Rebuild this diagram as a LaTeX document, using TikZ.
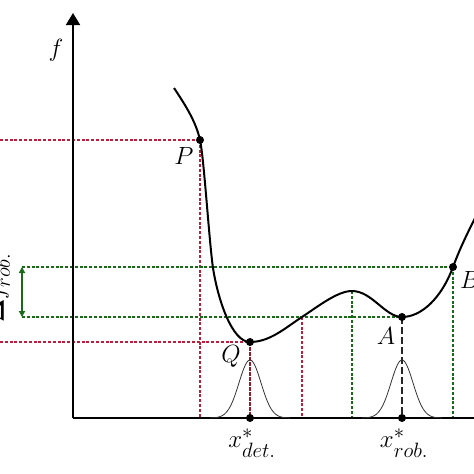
\documentclass[tikz,border=0pt]{standalone}
\usepackage{amsmath,amssymb,bm}
\usetikzlibrary{arrows.meta}
\definecolor{rdash}{RGB}{185,30,60}
\definecolor{rdark}{RGB}{150,25,40}
\definecolor{gdash}{RGB}{25,105,25}
\begin{document}
\begin{tikzpicture}[x=1pt,y=-1pt,
  reddash/.style={rdash, line width=1.6pt, dash pattern=on 3pt off 1.8pt},
  greendash/.style={gdash, line width=1.6pt, dash pattern=on 3pt off 1.8pt},
  blackdash/.style={black!85, line width=1.8pt, dash pattern=on 7pt off 3pt},
  axisline/.style={black, line width=1.8pt},
  curveline/.style={black, line width=2pt},
  gaussline/.style={black!80, line width=0.8pt},
  dot/.style={circle, fill=black, inner sep=0pt, minimum size=8pt},
  lbl/.style={font=\fontsize{28}{32}\selectfont}]
\useasboundingbox (0,0) rectangle (474,474);
\clip (0,0) rectangle (474,474);
% key coordinates
\coordinate (O) at (73,418);
\coordinate (ytop) at (73,13);
\coordinate (xend) at (480,418);
\coordinate (S) at (174,88);
\coordinate (P) at (200,140);
\coordinate (D) at (213,268);
\coordinate (Q) at (250,342);
\coordinate (C) at (302,317);
\coordinate (M) at (352,291);
\coordinate (A) at (402,317);
\coordinate (B) at (453,267);
\coordinate (E) at (478,212);
\coordinate (leftP) at (0,140);
\coordinate (leftQ) at (0,342);
\coordinate (gB) at (22,267);
\coordinate (gA) at (22,317);
% dashed guide lines
\draw[reddash] (leftP) -- (P);
\draw[reddash] (P) -- (P |- O);
\draw[reddash] (leftQ) -- (Q);
\draw[rdark, line width=1.6pt, dash pattern=on 4pt off 1pt] (Q) -- (Q |- O);
\draw[reddash] (C) -- (C |- O);
\draw[greendash] (gB) -- (B);
\draw[greendash] (gA) -- (A);
\draw[greendash] (M) -- (M |- O);
\draw[greendash] (B) -- (B |- O);
\draw[blackdash] (A) -- (A |- O);
% green double arrow
\draw[gdash, line width=1.4pt, {Triangle[length=6pt,width=6pt]}-{Triangle[length=6pt,width=6pt]}] (gB) -- (gA);
% axes
\draw[axisline, -{Triangle[length=12pt,width=14pt]}] (O) -- (ytop);
\draw[axisline] (O) -- (xend);
% gaussians
\draw[gaussline] plot[domain=-40:40, samples=81] ({250+\x},{418-58*exp(-(\x)*(\x)/242)});
\draw[gaussline] plot[domain=-40:40, samples=81] ({402+\x},{418-58*exp(-(\x)*(\x)/242)});
% objective curve
\draw[curveline] (S) .. controls (186,106) and (196,122) .. (P)
  .. controls (204,158) and (209,240) .. (D)
  .. controls (218,300) and (232,342) .. (Q)
  .. controls (270,342) and (285,328) .. (C)
  .. controls (320,305) and (338,291) .. (M)
  .. controls (372,291) and (385,317) .. (A)
  .. controls (422,317) and (442,297) .. (B)
  .. controls (460,248) and (468,232) .. (E);
% dots
\node[dot] (Pd) at (P) {};
\node[dot] (Qd) at (Q) {};
\node[dot] (Ad) at (A) {};
\node[dot] (Bd) at (B) {};
\node[dot] (xd) at (Q |- O) {};
\node[dot] (xr) at (A |- O) {};
% labels
\node[lbl] (flab) at (56,50) {$f$};
\node[lbl] (Plab) at (184,156) {$P$};
\node[lbl] (Qlab) at (231,356) {$Q$};
\node[lbl] (Alab) at (386,336) {$A$};
\node[lbl] (Blab) at (470,280) {$B$};
\node[lbl] (xdlab) at (252,443) {$x^{*}_{det.}$};
\node[lbl] (xrlab) at (404,443) {$x^{*}_{rob.}$};
\node[lbl, rotate=90, anchor=base] (dflab) at (4,288) {$\bm{\Delta} f_{rob.}$};
\end{tikzpicture}
\end{document}
